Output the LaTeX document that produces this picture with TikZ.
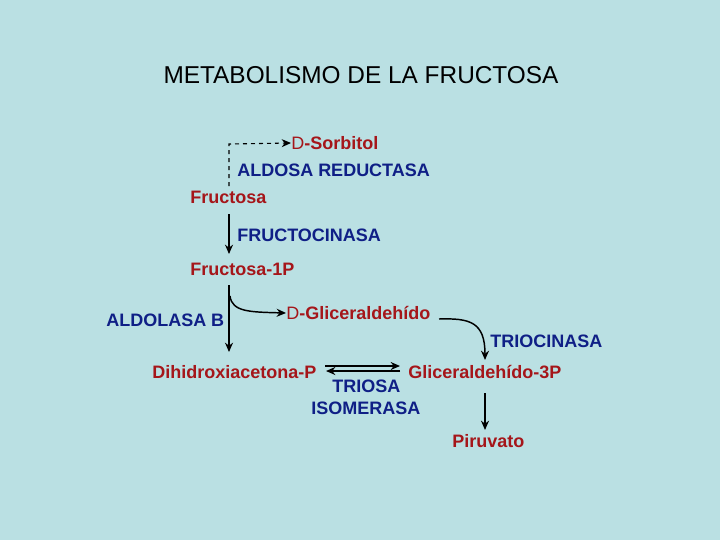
\documentclass[tikz,border=0pt]{standalone}
\usepackage{fontspec}
\setmainfont{Liberation Sans}
\usetikzlibrary{arrows.meta}
\definecolor{bg}{HTML}{BAE0E3}
\definecolor{rd}{HTML}{A5161A}
\definecolor{bl}{HTML}{0F1F86}
\tikzset{
 sub/.style={anchor=west,inner sep=0pt,text=rd,font=\bfseries\fontsize{13.5}{15}\selectfont},
 enz/.style={anchor=west,inner sep=0pt,text=bl,font=\bfseries\fontsize{13.5}{15}\selectfont},
 arr/.style={-{Stealth[length=7pt,width=6pt]},line width=1.1pt,black},
}
\begin{document}
\begin{tikzpicture}[x=0.75pt,y=-0.75pt]
\fill[bg] (0,0) rectangle (720,540);
\useasboundingbox (0,0) rectangle (720,540);
\node[inner sep=0pt,font=\fontsize{18.3}{21}\selectfont] (title) at (361,75) {METABOLISMO DE LA FRUCTOSA};
\node[sub] (sorb) at (291,143) {{\mdseries D}-Sorbitol};
\node[enz] (ar) at (237,170) {ALDOSA REDUCTASA};
\node[sub] (fru) at (190,197) {Fructosa};
\node[enz] (fk) at (237,235) {FRUCTOCINASA};
\node[sub] (f1p) at (190,269) {Fructosa-1P};
\node[enz] (alb) at (106,320) {ALDOLASA B};
\node[sub] (gli) at (286,313) {{\mdseries D}-Gliceraldehído};
\node[enz] (tk) at (490,341) {TRIOCINASA};
\node[sub] (dhap) at (152,372) {Dihidroxiacetona-P};
\node[sub] (g3p) at (408,372) {Gliceraldehído-3P};
\node[enz] (tr) at (332,386) {TRIOSA};
\node[enz] (iso) at (311,408) {ISOMERASA};
\node[sub] (pir) at (452,441) {Piruvato};
\coordinate (a1) at (229,186);
\coordinate (a2) at (229,144);
\draw[arr,dashed,line width=0.8pt] (a1) -- (a2) -- (sorb.west);
\draw[arr] (229,214) -- (229,254);
\draw[arr] (229,285) -- (229,352);
\draw[arr] (230,296) .. controls (232,312) and (250,312) .. (gli.west);
\draw[arr] (439,319) .. controls (470,318) and (485,322) .. (485,360);
\draw[arr] (485,393) -- (485,430);
\draw[arr] (325,366) -- (400,366);
\draw[arr] (400,371) -- (326,371);
\end{tikzpicture}
\end{document}
